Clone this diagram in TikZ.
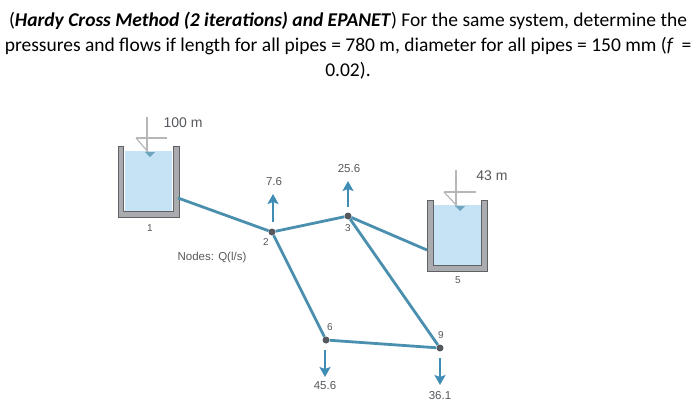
\documentclass[tikz,border=0pt]{standalone}
\usepackage{fontspec}
\setmainfont{Carlito}
\newfontfamily\labelfont{Liberation Sans}
\usetikzlibrary{arrows.meta}
\definecolor{pipecolor}{HTML}{4A8FAE}
\definecolor{flowcolor}{HTML}{3F8DB5}
\definecolor{watercolor}{HTML}{C6E3F6}
\definecolor{wallcolor}{HTML}{A9ABAE}
\definecolor{walledge}{HTML}{5F6164}
\definecolor{levelcolor}{HTML}{B5B7B8}
\definecolor{labelcolor}{HTML}{55585C}
\tikzset{
  junction/.style={circle,fill=labelcolor,inner sep=0pt,minimum size=7pt},
  pipe/.style={draw=pipecolor,line width=2.8pt},
  flowarrow/.style={draw=flowcolor,line width=2.6pt,-{Stealth[length=10pt,width=11pt,inset=2pt]}},
  tinylabel/.style={font=\labelfont\fontsize{10}{12}\selectfont,text=labelcolor,inner sep=0pt},
  flowlabel/.style={font=\labelfont\fontsize{11.5}{12}\selectfont,text=labelcolor,inner sep=0pt},
  headlabel/.style={font=\labelfont\fontsize{14}{15}\selectfont,text=labelcolor,inner sep=0pt},
  tankwall/.style={draw=walledge,fill=wallcolor,line width=1pt},
  levelline/.style={draw=levelcolor,line width=1.2pt}
}
\begin{document}
\begin{tikzpicture}[x=1pt,y=-1pt]
      \useasboundingbox (0,0) rectangle (700,408);
      \node[align=center,inner sep=0pt,font=\fontsize{19.5}{25}\selectfont] (title) at (348,46)
        {(\textbf{\textit{Hardy Cross Method (2 iterations) and EPANET}}) For the same system, determine the\\
         pressures and flows if length for all pipes = 780 m, diameter for all pipes = 150 mm (\textit{f} \,=\\
         0.02).};
      \fill[watercolor] (125,151) rectangle (172,211);
      \fill[watercolor] (433,205) rectangle (481,265);
      \draw[tankwall] (118,146) -- (123,146) -- (123,211) -- (173,211) -- (173,146) -- (179,146)
        -- (179,217) -- (118,217) -- cycle;
      \draw[tankwall] (427,200) -- (433,200) -- (433,265) -- (481,265) -- (481,200) -- (487,200)
        -- (487,271) -- (427,271) -- cycle;
      \draw[levelline] (147,117) -- (147,153);
      \draw[levelline] (136,138) -- (167,138);
      \draw[levelline] (136,138) -- (149,153);
      \fill[pipecolor!80] (145,152) -- (155,152) -- (150,157) -- cycle;
      \draw[levelline] (456,170) -- (456,207);
      \draw[levelline] (444,192) -- (476,192);
      \draw[levelline] (444,192) -- (458,207);
      \fill[pipecolor!80] (455,206) -- (465,206) -- (460,211) -- cycle;
      \coordinate (t1) at (178,198);
      \coordinate (t5) at (427,250);
      \draw
        (272,232) node[junction] (n2){}
        (348,216) node[junction] (n3){}
        (326,340) node[junction] (n6){}
        (440,348) node[junction] (n9){};
      \coordinate (a2) at (273,222);
      \coordinate (b2) at (273,194);
      \coordinate (a3) at (348,207);
      \coordinate (b3) at (348,181);
      \coordinate (a6) at (325,350);
      \coordinate (b6) at (325,377);
      \coordinate (a9) at (440,358);
      \coordinate (b9) at (440,385);
      \begin{scope}[pipe]
        \draw (t1) to (n2);
        \draw (n2) to (n3);
        \draw (n3) to (t5);
        \draw (n2) to (n6);
        \draw (n3) to (n9);
        \draw (n6) to (n9);
      \end{scope}
      \begin{scope}[flowarrow]
        \draw (a2) to (b2);
        \draw (a3) to (b3);
        \draw (a6) to (b6);
        \draw (a9) to (b9);
      \end{scope}
      \node[headlabel] (head1) at (183,123) {100 m};
      \node[headlabel] (head5) at (492,176) {43 m};
      \node[tinylabel] (l1) at (150,228) {1};
      \node[tinylabel] (l2) at (266,242) {2};
      \node[tinylabel] (l3) at (348,228) {3};
      \node[tinylabel] (l5) at (458,280) {5};
      \node[tinylabel] (l6) at (330,327) {6};
      \node[tinylabel] (l9) at (441,335) {9};
      \node[flowlabel] (q2) at (274,182) {7.6};
      \node[flowlabel] (q3) at (349,169) {25.6};
      \node[flowlabel] (q6) at (325,386) {45.6};
      \node[flowlabel] (q9) at (440,396) {36.1};
      \node[flowlabel] (legend) at (212,258) {Nodes: Q(l/s)};
    \end{tikzpicture}
\end{document}
